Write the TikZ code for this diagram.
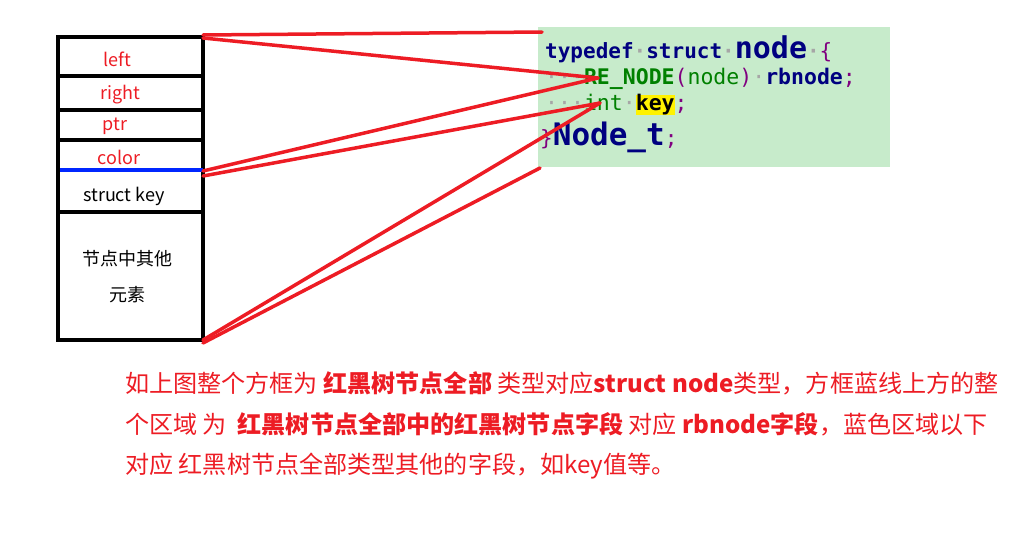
\documentclass[tikz,border=0pt]{standalone}
\usepackage{fontspec}
\setmainfont{Noto Sans CJK SC}
\newfontfamily\cjk{Noto Sans CJK SC}
\newfontfamily\cmono{DejaVu Sans Mono}
\definecolor{codebg}{HTML}{C7EBCB}
\definecolor{navy}{HTML}{000080}
\definecolor{kgreen}{HTML}{008000}
\definecolor{purp}{HTML}{800080}
\definecolor{rl}{HTML}{ED1C24}
\definecolor{bl}{HTML}{0026FF}
\newcommand{\sd}{{\color{gray!70}\textperiodcentered}}
\begin{document}
\begin{tikzpicture}[x=1pt,y=-1pt,
  lbl/.style={font=\cjk\fontsize{18}{20}\selectfont, inner sep=0pt},
  redl/.style={draw=rl, line width=3.5pt, line cap=round},
  txt/.style={font=\cjk\fontsize{24.1}{26}\selectfont, text=rl, anchor=west, inner sep=0pt}]
\useasboundingbox (0,0) rectangle (1036,546);
% code box
\fill[codebg] (538,27) rectangle (890,167);
\node[anchor=west, inner sep=0pt, font=\cmono\bfseries\fontsize{21}{23}\selectfont, text=navy] (l1) at (545,49)
 {typedef\sd struct\sd{\fontsize{30}{31}\selectfont node}\sd{\mdseries\color{purp}\{}};
\node[anchor=west, inner sep=0pt, font=\cmono\fontsize{21.5}{23}\selectfont] (l2) at (545,79)
 {\sd\sd\sd{\bfseries\color{kgreen}RE\_NODE}{\color{purp}(}{\color{kgreen}node}{\color{purp})}\sd{\bfseries\color{navy}rbnode}{\color{purp};}};
\node[anchor=west, inner sep=0pt, font=\cmono\fontsize{21.5}{23}\selectfont] (l3) at (545,105)
 {\sd\sd\sd{\color{kgreen}int}\sd{\setlength{\fboxsep}{0pt}\colorbox{yellow}{\bfseries key}}{\color{purp};}};
\node[anchor=west, inner sep=0pt, font=\cmono\fontsize{21}{23}\selectfont] (l4) at (540,137)
 {{\color{purp}\}}{\bfseries\color{navy}\fontsize{31}{32}\selectfont Node\_t}{\color{purp};}};
% left box
\draw[line width=3.5pt] (58,37) rectangle (203,340);
\foreach \yy in {76,110,140,212} \draw[line width=3.5pt] (58,\yy) -- (205,\yy);
\draw[bl, line width=3.5pt] (60,170) -- (203,170);
\node[lbl, text=rl] (left) at (117,59) {left};
\node[lbl, text=rl] (right) at (120,95) {right};
\node[lbl, text=rl] (ptr) at (115,126) {ptr};
\node[lbl, text=rl] (color) at (119,157) {color};
\node[lbl] (skey) at (124,196) {struct key};
\node[lbl] (o1) at (127,259) {节点中其他};
\node[lbl] (o2) at (127,295) {元素};
% red lines
\coordinate (a1) at (203,35); \coordinate (b1) at (542,32);
\coordinate (a2) at (203,38); \coordinate (b2) at (598,78);
\coordinate (a3) at (203,171); \coordinate (a4) at (203,176);
\coordinate (b4) at (600,103);
\coordinate (a5) at (203,340); \coordinate (a6) at (203,343);
\coordinate (b6) at (540,168);
\draw[redl] (a1) -- (b1);
\draw[redl] (a2) -- (b2);
\draw[redl] (a3) -- (b2);
\draw[redl] (a4) -- (b4);
\draw[redl] (a5) -- (b4);
\draw[redl] (a6) -- (b6);
% paragraph
\node[txt] (p1) at (125,383) {如上图整个方框为 \textbf{红黑树节点全部} 类型对应\textbf{struct node}类型，方框蓝线上方的整};
\node[txt] (p2) at (125,424) {个区域 为 \ \textbf{红黑树节点全部中的红黑树节点字段} 对应 \textbf{rbnode字段}，蓝色区域以下};
\node[txt] (p3) at (125,466) {对应 红黑树节点全部类型其他的字段，如key值等。};
\end{tikzpicture}
\end{document}
